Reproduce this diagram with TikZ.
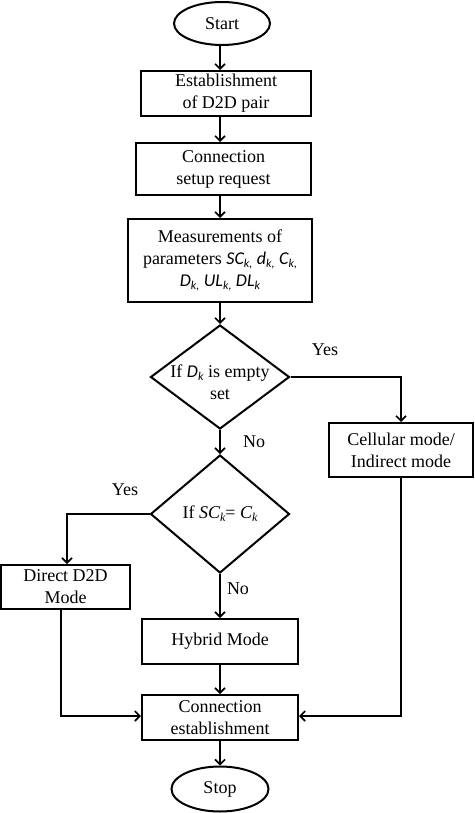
\documentclass[tikz,border=0pt]{standalone}
\usepackage{fontspec}
\setmainfont{Liberation Serif}
\newfontfamily\calib{Carlito}
\usetikzlibrary{shapes.geometric,arrows.meta}
\newcommand\vk[2]{{\calib\itshape #1\raisebox{-0.4ex}{\fontsize{12}{12}\selectfont #2}}}
\newcommand\sk[2]{{\itshape #1\raisebox{-0.4ex}{\fontsize{12}{12}\selectfont #2}}}
\begin{document}
\begin{tikzpicture}[x=1pt,y=-1pt,
  every node/.style={font=\fontsize{18}{22}\selectfont},
  box/.style={draw,line width=2pt,rectangle,align=center,inner sep=1pt},
  term/.style={draw,line width=2pt,ellipse,inner sep=0pt},
  decide/.style={draw,line width=2pt,diamond,align=center,inner sep=0pt},
  lbl/.style={inner sep=0pt},
  conn/.style={line width=2pt,-{Straight Barb[length=5pt,width=10pt,line width=1.6pt]}},
  plain/.style={line width=2pt}]
\useasboundingbox (0,0) rectangle (474,813);
\node[term,minimum width=96pt,minimum height=43pt] (start) at (222,23.5) {Start};
\node[box,minimum width=170pt,minimum height=45pt] (b1) at (226,93.5) {Establishment\\of D2D pair};
\node[box,minimum width=175pt,minimum height=52pt] (b2) at (223.5,169) {Connection\\setup request};
\node[box,minimum width=184pt,minimum height=83pt] (b3) at (220,260.5) {Measurements of\\parameters \vk{SC}{k,} \vk{d}{k,} \vk{C}{k,}\\\vk{D}{k,} \vk{UL}{k,} \vk{DL}{k}};
\node[decide,minimum width=139pt,minimum height=104pt] (d1) at (220,377) {};
\node[lbl,align=center] (d1t) at (220,382) {If \vk{D}{k} is empty\\set};
\node[box,minimum width=144pt,minimum height=54pt] (cell) at (401,450) {Cellular mode/\\Indirect mode};
\node[decide,minimum width=139pt,minimum height=118pt] (d2) at (220,514) {};
\node[lbl] (d2t) at (220,514) {If \sk{SC}{k}= \sk{C}{k}};
\node[box,minimum width=129pt,minimum height=44pt] (direct) at (65.5,587) {Direct D2D\\Mode};
\node[box,minimum width=156pt,minimum height=45pt] (hyb) at (220,641.5) {Hybrid Mode};
\node[box,minimum width=156pt,minimum height=45pt] (est) at (220,717.5) {Connection\\establishment};
\node[term,minimum width=97pt,minimum height=45pt] (stop) at (220,789) {Stop};
\node[lbl] (y1) at (325,350) {Yes};
\node[lbl] (n1) at (254,442) {No};
\node[lbl] (y2) at (125,490) {Yes};
\node[lbl] (n2) at (238,589) {No};
\draw[conn] (b3.center |- start.south) -- (b3.center |- b1.north);
\draw[conn] (b3.center |- b1.south) -- (b3.center |- b2.north);
\draw[conn] (b3.center |- b2.south) -- (b3.north);
\draw[conn] (b3.south) -- (d1.north);
\draw[conn] (d1.south) -- (d2.north);
\draw[conn] (d1.east) -| (cell.north);
\draw[conn] (d2.west) -| ([xshift=1.5pt]direct.north);
\draw[conn] (d2.south) -- (hyb.north);
\draw[conn] (hyb.south) -- (est.north);
\draw[conn] ([xshift=-4.5pt]direct.south) |- ([yshift=1.5pt]est.west);
\draw[conn] (cell.south) |- ([yshift=1.5pt]est.east);
\draw[conn] (est.south) -- (stop.north);
\end{tikzpicture}
\end{document}
